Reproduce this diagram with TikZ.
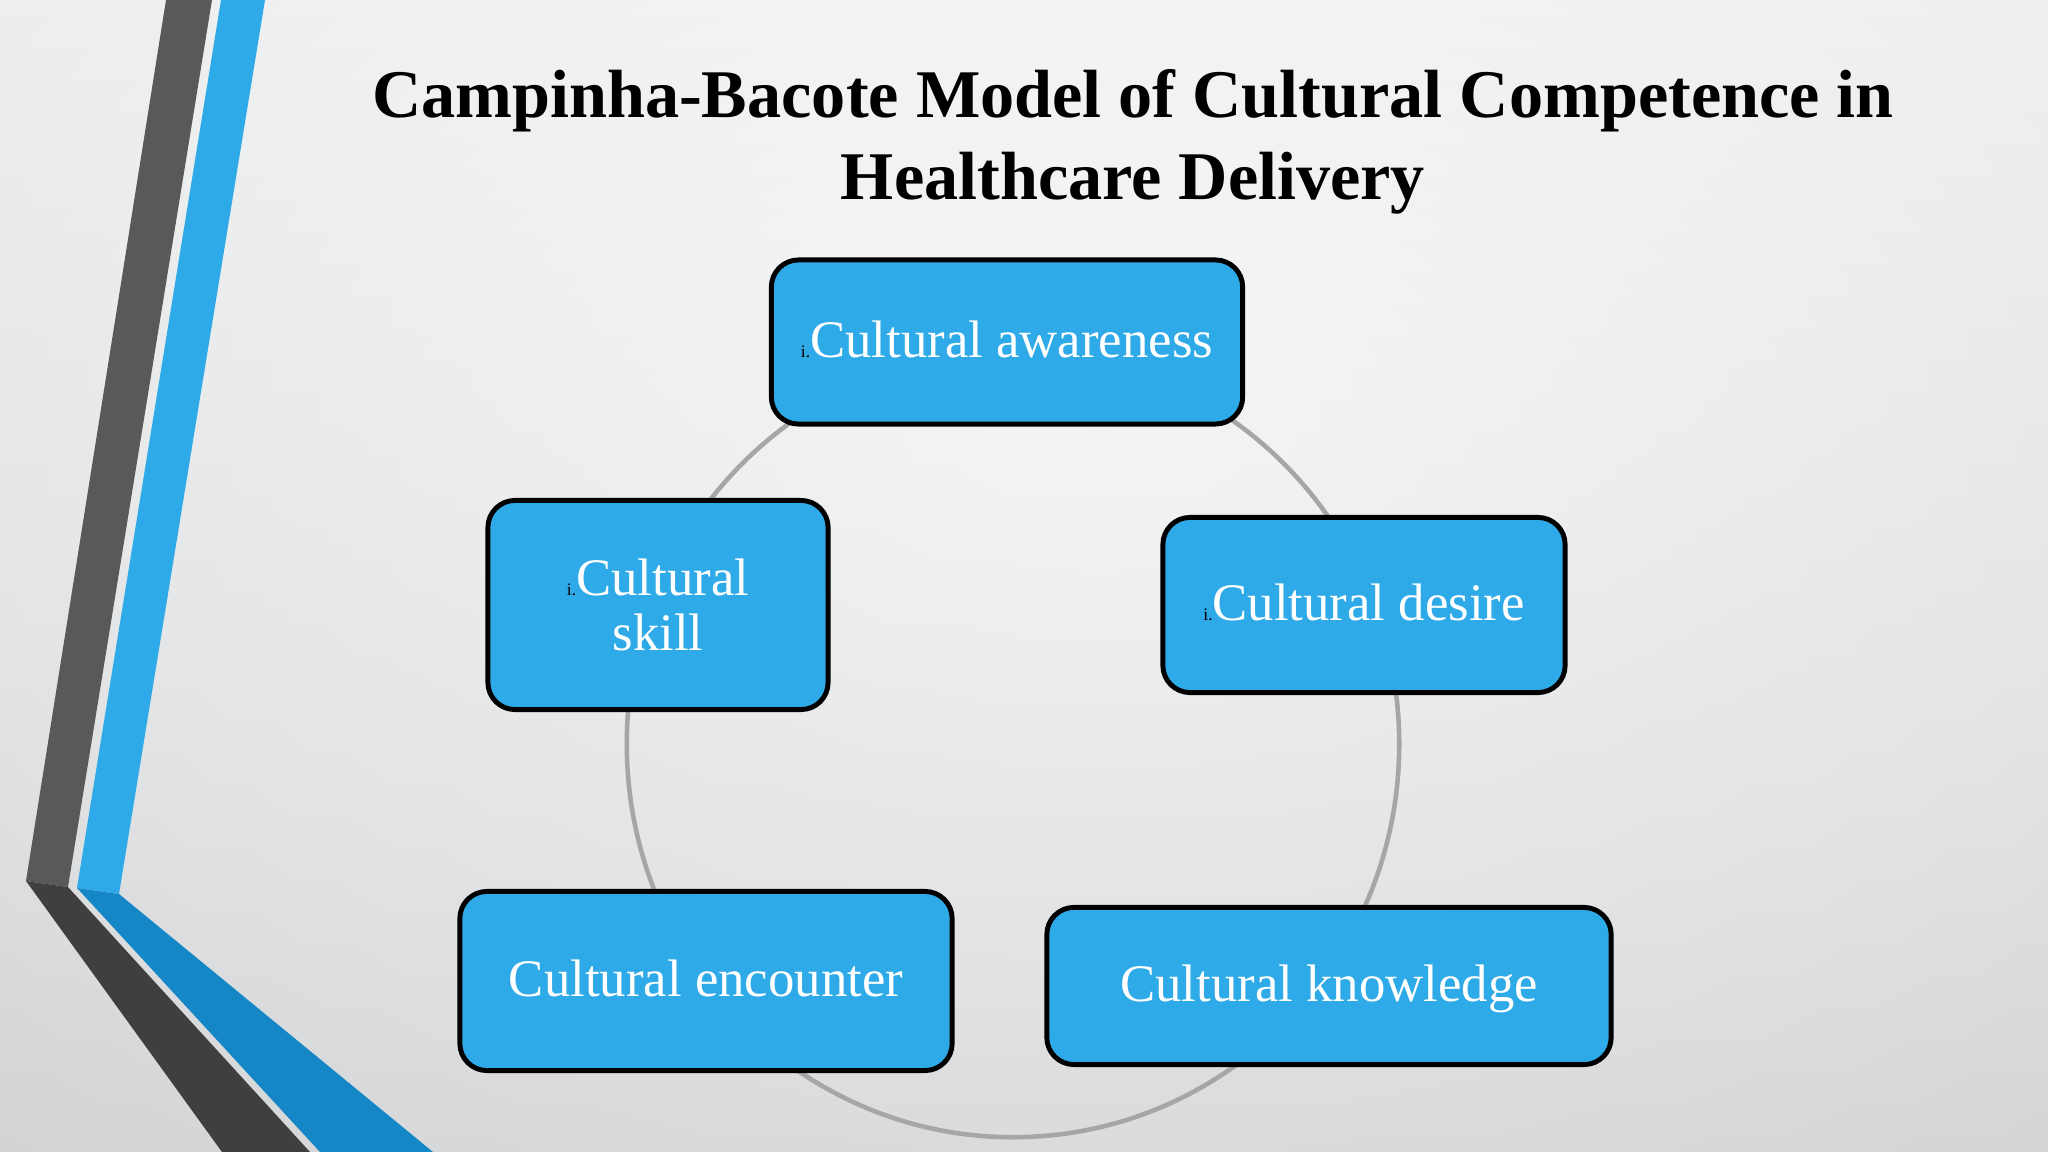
\documentclass[tikz,border=0pt]{standalone}
\usepackage{fontspec}
\setmainfont{Liberation Serif}
\usepackage{tikz}
\usetikzlibrary{fadings}
\definecolor{sky}{HTML}{2FAAE8}
\definecolor{skydeep}{HTML}{1587C7}
\definecolor{slate}{HTML}{595959}
\definecolor{slatedeep}{HTML}{3F3F3F}
\definecolor{ringgray}{HTML}{A6A6A6}
\definecolor{bgtop}{HTML}{E0E2E3}
\definecolor{bgbot}{HTML}{BBBEC1}
\tikzfading[name=glow,inner color=transparent!25,outer color=transparent!100]
\newcommand{\itemno}{{\fontsize{5}{5}\selectfont\color{black}i.}}

\begin{document}
\begin{tikzpicture}[x=0.01cm,y=-0.01cm,
    stage/.style={draw=black,line width=1.4pt,rounded corners=.27cm,fill=sky,text=white,inner sep=0pt,font=\fontsize{15}{15.65}\selectfont,align=center},
    oneline/.style={text height=10.5pt,text depth=1.5pt}]
  \useasboundingbox (0,0) rectangle (2048,1152);
  \begin{scope}
    \clip (0,0) rectangle (2048,1152);
    \shade[top color=bgtop,bottom color=bgbot] (0,0) rectangle (2048,1152);
    \fill[white,path fading=glow] (1100,400) ellipse [x radius=28.8cm,y radius=18.5cm];
  \end{scope}
  % side bands
  \fill[slate] (166,0) -- (212,0) -- (68,887) -- (26,881) -- cycle;
  \fill[slatedeep] (26,881) -- (68,887) -- (310,1152) -- (222,1152) -- cycle;
  \fill[sky] (221,0) -- (265,0) -- (119,894) -- (77,888) -- cycle;
  \fill[skydeep] (77,888) -- (119,894) -- (433,1152) -- (320,1152) -- cycle;
  % ring behind the stages
  \coordinate (hub) at (1013,744);
  \draw[ringgray,line width=1.3pt] (hub) ellipse [x radius=3.86cm,y radius=3.93cm];
  \node[font=\bfseries\fontsize{19.4}{23.6}\selectfont,align=center,anchor=base,inner sep=0pt] (title) at (1133,200) {Campinha-Bacote Model of Cultural Competence in\\Healthcare Delivery};
  \node[stage,oneline,minimum width=4.71cm,minimum height=1.64cm] (aware) at (1007,342) {\itemno Cultural awareness};
  \node[stage,minimum width=3.40cm,minimum height=2.09cm] (skill) at (658,605) {\itemno Cultural\\skill};
  \node[stage,oneline,minimum width=4.02cm,minimum height=1.75cm] (desire) at (1364,605) {\itemno Cultural desire};
  \node[stage,oneline,minimum width=4.92cm,minimum height=1.79cm] (encounter) at (706,981) {Cultural encounter};
  \node[stage,oneline,minimum width=5.64cm,minimum height=1.57cm] (knowledge) at (1329,986) {Cultural knowledge};
\end{tikzpicture}
\end{document}
